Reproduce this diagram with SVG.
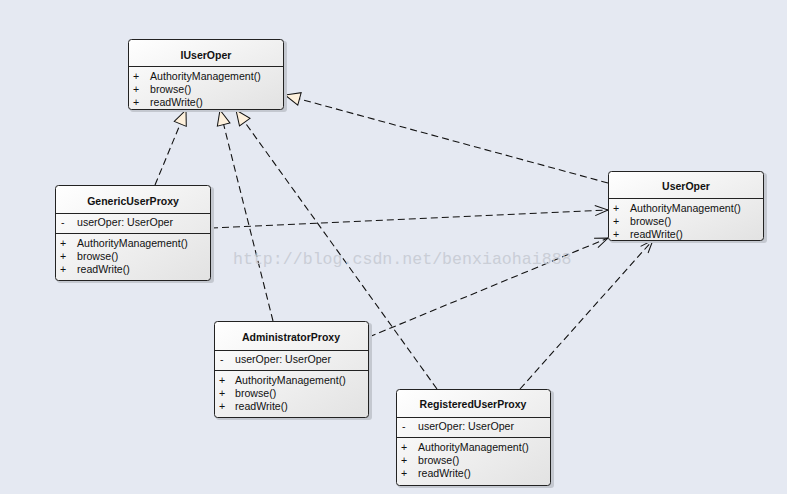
<svg xmlns="http://www.w3.org/2000/svg" width="787" height="494" viewBox="0 0 787 494">
<defs>
<linearGradient id="g" x1="0" y1="0" x2="1" y2="1">
<stop offset="0" stop-color="#ffffff"/>
<stop offset="1" stop-color="#e2e2e2"/>
</linearGradient>
<marker id="tri" markerUnits="userSpaceOnUse" markerWidth="18" markerHeight="16" refX="16" refY="7" orient="auto" viewBox="0 0 18 14">
<path d="M1,0.5 L16,7 L1,13.5 Z" fill="#fdf0dc" stroke="#111" stroke-width="1"/>
</marker>
<marker id="open" markerUnits="userSpaceOnUse" markerWidth="16" markerHeight="14" refX="14" refY="6" orient="auto" viewBox="0 0 16 12">
<path d="M1,1 L14,6 L1,11" fill="none" stroke="#111" stroke-width="1"/>
</marker>
</defs>
<style>
.shadow{fill:#c4c8d0}
.box{fill:url(#g);stroke:#222;stroke-width:1}
.sep{stroke:#222;stroke-width:1}
.t{font-family:"Liberation Sans",Arial,sans-serif;font-size:10.6px;fill:#111}
.h{font-family:"Liberation Sans",Arial,sans-serif;font-size:10.5px;font-weight:bold;fill:#111;text-anchor:middle}
.c{fill:none;stroke:#111;stroke-width:1.1;stroke-dasharray:7,4}
.wm{font-family:"Liberation Mono","DejaVu Sans Mono",monospace;font-size:16.6px;fill:#c6cad2;opacity:0.85}
</style>
<rect width="787" height="494" fill="#e5e9f2"/>

<g id="connectors">
<line class="c" x1="155" y1="185" x2="186" y2="110" marker-end="url(#tri)"/>
<line class="c" x1="273" y1="321" x2="220" y2="110" marker-end="url(#tri)"/>
<line class="c" x1="437" y1="389" x2="236" y2="110" marker-end="url(#tri)"/>
<line class="c" x1="608" y1="183" x2="285" y2="95" marker-end="url(#tri)"/>
<line class="c" x1="211" y1="228" x2="608" y2="210" marker-end="url(#open)"/>
<line class="c" x1="369" y1="337" x2="608" y2="238" marker-end="url(#open)"/>
<line class="c" x1="520" y1="389" x2="653" y2="240" marker-end="url(#open)"/>
</g>

<g id="IUserOper">
<rect class="shadow" x="130" y="41" width="157" height="71" rx="3"/>
<rect class="box" x="128.5" y="39.5" width="155" height="70" rx="3"/>
<line class="sep" x1="128.5" y1="66.5" x2="283.5" y2="66.5"/>
<text class="h" x="206" y="59">IUserOper</text>
<text class="t" x="133" y="80">+</text><text class="t" x="150" y="80">AuthorityManagement()</text>
<text class="t" x="133" y="93">+</text><text class="t" x="150" y="93">browse()</text>
<text class="t" x="133" y="106">+</text><text class="t" x="150" y="106">readWrite()</text>
</g>

<g id="GenericUserProxy">
<rect class="shadow" x="57" y="187" width="157" height="96" rx="3"/>
<rect class="box" x="55.5" y="185.5" width="155" height="95" rx="3"/>
<line class="sep" x1="55.5" y1="213.5" x2="210.5" y2="213.5"/>
<line class="sep" x1="55.5" y1="233.5" x2="210.5" y2="233.5"/>
<text class="h" x="133" y="205">GenericUserProxy</text>
<text class="t" x="61" y="226">-</text><text class="t" x="77" y="226">userOper: UserOper</text>
<text class="t" x="60" y="247">+</text><text class="t" x="77" y="247">AuthorityManagement()</text>
<text class="t" x="60" y="260">+</text><text class="t" x="77" y="260">browse()</text>
<text class="t" x="60" y="273">+</text><text class="t" x="77" y="273">readWrite()</text>
</g>

<g id="UserOper">
<rect class="shadow" x="610" y="173" width="157" height="70" rx="3"/>
<rect class="box" x="608.5" y="171.5" width="155" height="69" rx="3"/>
<line class="sep" x1="608.5" y1="198.5" x2="763.5" y2="198.5"/>
<text class="h" x="686" y="190">UserOper</text>
<text class="t" x="613" y="212">+</text><text class="t" x="630" y="212">AuthorityManagement()</text>
<text class="t" x="613" y="225">+</text><text class="t" x="630" y="225">browse()</text>
<text class="t" x="613" y="238">+</text><text class="t" x="630" y="238">readWrite()</text>
</g>

<g id="AdministratorProxy">
<rect class="shadow" x="216" y="323" width="156" height="97" rx="3"/>
<rect class="box" x="214.5" y="321.5" width="154" height="96" rx="3"/>
<line class="sep" x1="214.5" y1="350.5" x2="368.5" y2="350.5"/>
<line class="sep" x1="214.5" y1="370.5" x2="368.5" y2="370.5"/>
<text class="h" x="291" y="341">AdministratorProxy</text>
<text class="t" x="220" y="363">-</text><text class="t" x="235" y="363">userOper: UserOper</text>
<text class="t" x="219" y="384">+</text><text class="t" x="235" y="384">AuthorityManagement()</text>
<text class="t" x="219" y="397">+</text><text class="t" x="235" y="397">browse()</text>
<text class="t" x="219" y="410">+</text><text class="t" x="235" y="410">readWrite()</text>
</g>

<g id="RegisteredUserProxy">
<rect class="shadow" x="398" y="391" width="156" height="97" rx="3"/>
<rect class="box" x="396.5" y="389.5" width="154" height="96" rx="3"/>
<line class="sep" x1="396.5" y1="417.5" x2="550.5" y2="417.5"/>
<line class="sep" x1="396.5" y1="437.5" x2="550.5" y2="437.5"/>
<text class="h" x="473" y="408">RegisteredUserProxy</text>
<text class="t" x="402" y="430">-</text><text class="t" x="418" y="430">userOper: UserOper</text>
<text class="t" x="401" y="451">+</text><text class="t" x="418" y="451">AuthorityManagement()</text>
<text class="t" x="401" y="464">+</text><text class="t" x="418" y="464">browse()</text>
<text class="t" x="401" y="477">+</text><text class="t" x="418" y="477">readWrite()</text>
</g>

<text class="wm" x="233" y="264">http://blog.csdn.net/benxiaohai888</text>
</svg>
